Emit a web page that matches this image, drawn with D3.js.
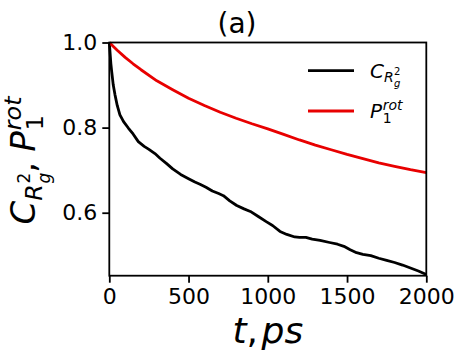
<!DOCTYPE html>
<html><head><meta charset="utf-8">
<script src="https://cdn.jsdelivr.net/npm/d3@7"></script>
<style>body{margin:0;background:#fff}svg{display:block}text{font-family:"DejaVu Sans",sans-serif}</style>
</head><body>
<svg id="chart" width="474" height="355"></svg>
<script>
const redT = [0,50,100,150,200,300,400,500,600,700,800,900,1000,1100,1200,1300,1400,1500,1600,1700,1800,1900,2000];
const redV = [1.0,0.982,0.965,0.95,0.936,0.91,0.889,0.869,0.852,0.836,0.822,0.809,0.797,0.784,0.771,0.759,0.748,0.737,0.727,0.717,0.709,0.701,0.694];
const blackT = [0,3,6,10,15,25,36,50,67,90,120,150,183,220,250,288,320,360,400,450,500,540,572,610,650,690,720,760,804,850,890,940,990,1030,1077,1120,1170,1200,1240,1280,1330,1390,1440,1480,1520,1560,1600,1650,1700,1750,1800,1850,1900,1950,2000];
const blackV = [1.0,0.985,0.97,0.95,0.932,0.9,0.877,0.852,0.83,0.814,0.799,0.785,0.767,0.756,0.749,0.739,0.728,0.716,0.703,0.690,0.680,0.672,0.667,0.660,0.651,0.645,0.640,0.628,0.617,0.609,0.603,0.591,0.579,0.570,0.556,0.549,0.543,0.542,0.542,0.538,0.535,0.530,0.526,0.521,0.513,0.506,0.502,0.499,0.493,0.488,0.483,0.477,0.470,0.463,0.455];
const xTicks = [0,500,1000,1500,2000];
const yTicks = [0.6,0.8,1.0];
const title = "(a)";

const svg = d3.select("#chart");
const L=109.3, R=426.3, T=42.5, B=275.7;
const x = d3.scaleLinear().domain([0,2000]).range([L,R]);
const y = d3.scaleLinear().domain([0.452,1.0]).range([B,T]);
const RED = "#e80000";

// curves
const line = d3.line().x(d=>x(d[0])).y(d=>y(d[1]));
svg.append("path").datum(blackT.map((t,i)=>[t,blackV[i]]))
  .attr("d",line).attr("fill","none").attr("stroke","#000").attr("stroke-width",2.8).attr("stroke-linejoin","round");
svg.append("path").datum(redT.map((t,i)=>[t,redV[i]]))
  .attr("d",line).attr("fill","none").attr("stroke",RED).attr("stroke-width",2.8).attr("stroke-linejoin","round");

// frame
svg.append("rect").attr("x",L).attr("y",T).attr("width",R-L).attr("height",B-T)
  .attr("fill","none").attr("stroke","#000").attr("stroke-width",1.8);

// axes
const xAxis = d3.axisBottom(x).tickValues(xTicks).tickSizeInner(7).tickSizeOuter(0).tickPadding(6).tickFormat(d3.format("d"));
const gx = svg.append("g").attr("transform",`translate(0,${B})`).call(xAxis);
const yAxis = d3.axisLeft(y).tickValues(yTicks).tickSizeInner(7).tickSizeOuter(0).tickPadding(5).tickFormat(d3.format(".1f"));
const gy = svg.append("g").attr("transform",`translate(${L},0)`).call(yAxis);
[gx,gy].forEach(g=>{
  g.select(".domain").remove();
  g.selectAll(".tick line").attr("stroke","#000").attr("stroke-width",1.8);
  g.selectAll(".tick text").attr("fill","#000").style("font-size","22px").style("font-family","DejaVu Sans");
});

// math helper
function drawMath(g, pieces, x0, y0){
  let cx = x0;
  let i=0;
  while(i<pieces.length){
    const p = pieces[i];
    const group = [p];
    while(i+1<pieces.length && pieces[i+1].stack){ i++; group.push(pieces[i]); }
    let w=0;
    group.forEach(q=>{
      const t = g.append("text").attr("x",cx).attr("y",y0+(q.dy||0))
        .style("font-size",q.size+"px").style("font-style",q.italic?"italic":"normal")
        .attr("fill","#000").text(q.text);
      w = Math.max(w, t.node().getComputedTextLength());
    });
    cx += w + (p.gap||0);
    i++;
  }
  return cx - x0;
}
function cPieces(F){
  return [
    {text:"C",size:F,italic:true},
    {text:"R",size:0.7*F,italic:true,dy:0.22*F, gap:0.02*F},
    {text:"2",size:0.5*F,italic:false,dy:-0.14*F},
    {text:"g",size:0.5*F,italic:true,dy:0.44*F,stack:true}
  ];
}
function pPieces(F){
  return [
    {text:"P",size:F,italic:true,gap:0.03*F},
    {text:"rot",size:0.7*F,italic:true,dy:-0.4*F},
    {text:"1",size:0.7*F,italic:false,dy:0.24*F,stack:true}
  ];
}

// title
svg.append("text").attr("x",237).attr("y",33).attr("text-anchor","middle")
  .style("font-size","28px").attr("fill","#000").text(title);

// x label
(function(){
  const g = svg.append("g");
  const F=36;
  const w = drawMath(g,[
    {text:"t",size:F,italic:true},
    {text:",",size:F,italic:false,gap:0.1*F},
    {text:"ps",size:F,italic:true}
  ],0,0);
  g.attr("transform",`translate(${(L+R)/2 - w/2},343)`);
})();

// y label
(function(){
  const g = svg.append("g");
  const F=34;
  const pcs = cPieces(F).concat([{text:",",size:F,italic:false,gap:0.3*F}]).concat(pPieces(F));
  const w = drawMath(g,pcs,0,0);
  g.attr("transform",`translate(35,${160.5+w/2}) rotate(-90)`);
})();

// legend
const legend = [{name:"C",color:"#000",y:70.7},{name:"P",color:RED,y:111}];
legend.forEach(d=>{
  svg.append("line").attr("x1",308).attr("x2",354).attr("y1",d.y).attr("y2",d.y)
    .attr("stroke",d.color).attr("stroke-width",2.8);
  const g = svg.append("g");
  drawMath(g, d.name==="C"?cPieces(20):pPieces(20), 0, 0);
  g.attr("transform",`translate(370,${d.y+7})`);
});
</script>
</body></html>
